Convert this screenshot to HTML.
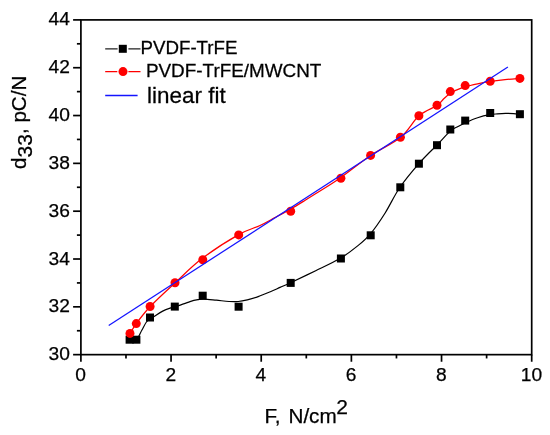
<!DOCTYPE html><html><head><meta charset="utf-8"><title>chart</title><style>html,body{margin:0;padding:0;background:#fff}svg{display:block}text{font-family:"Liberation Sans",sans-serif;fill:#000;stroke:#000;stroke-width:0.25px}</style></head><body>
<svg width="550" height="435" viewBox="0 0 550 435">
<rect width="550" height="435" fill="#fff"/>
<g stroke="#000" stroke-width="1.70" fill="none" stroke-linecap="butt">
<rect x="80.90" y="19.90" width="450.80" height="334.75"/>
<line x1="73.10" y1="354.65" x2="80.90" y2="354.65"/>
<line x1="76.90" y1="330.74" x2="80.90" y2="330.74"/>
<line x1="73.10" y1="306.83" x2="80.90" y2="306.83"/>
<line x1="76.90" y1="282.92" x2="80.90" y2="282.92"/>
<line x1="73.10" y1="259.01" x2="80.90" y2="259.01"/>
<line x1="76.90" y1="235.10" x2="80.90" y2="235.10"/>
<line x1="73.10" y1="211.19" x2="80.90" y2="211.19"/>
<line x1="76.90" y1="187.27" x2="80.90" y2="187.27"/>
<line x1="73.10" y1="163.36" x2="80.90" y2="163.36"/>
<line x1="76.90" y1="139.45" x2="80.90" y2="139.45"/>
<line x1="73.10" y1="115.54" x2="80.90" y2="115.54"/>
<line x1="76.90" y1="91.63" x2="80.90" y2="91.63"/>
<line x1="73.10" y1="67.72" x2="80.90" y2="67.72"/>
<line x1="76.90" y1="43.81" x2="80.90" y2="43.81"/>
<line x1="73.10" y1="19.90" x2="80.90" y2="19.90"/>
<line x1="80.90" y1="354.65" x2="80.90" y2="361.75"/>
<line x1="125.98" y1="354.65" x2="125.98" y2="358.45"/>
<line x1="171.06" y1="354.65" x2="171.06" y2="361.75"/>
<line x1="216.14" y1="354.65" x2="216.14" y2="358.45"/>
<line x1="261.22" y1="354.65" x2="261.22" y2="361.75"/>
<line x1="306.30" y1="354.65" x2="306.30" y2="358.45"/>
<line x1="351.38" y1="354.65" x2="351.38" y2="361.75"/>
<line x1="396.46" y1="354.65" x2="396.46" y2="358.45"/>
<line x1="441.54" y1="354.65" x2="441.54" y2="361.75"/>
<line x1="486.62" y1="354.65" x2="486.62" y2="358.45"/>
<line x1="531.70" y1="354.65" x2="531.70" y2="361.75"/>
</g>
<text transform="translate(69.80 360.15) scale(1.000 1)" font-size="19.20" text-anchor="end" >30</text>
<text transform="translate(69.80 312.33) scale(1.000 1)" font-size="19.20" text-anchor="end" >32</text>
<text transform="translate(69.80 264.51) scale(1.000 1)" font-size="19.20" text-anchor="end" >34</text>
<text transform="translate(69.80 216.69) scale(1.000 1)" font-size="19.20" text-anchor="end" >36</text>
<text transform="translate(69.80 168.86) scale(1.000 1)" font-size="19.20" text-anchor="end" >38</text>
<text transform="translate(69.80 121.04) scale(1.000 1)" font-size="19.20" text-anchor="end" >40</text>
<text transform="translate(69.80 73.22) scale(1.000 1)" font-size="19.20" text-anchor="end" >42</text>
<text transform="translate(69.80 25.40) scale(1.000 1)" font-size="19.20" text-anchor="end" >44</text>
<text transform="translate(80.60 381.00) scale(1.000 1)" font-size="19.20" text-anchor="middle" >0</text>
<text transform="translate(170.76 381.00) scale(1.000 1)" font-size="19.20" text-anchor="middle" >2</text>
<text transform="translate(260.92 381.00) scale(1.000 1)" font-size="19.20" text-anchor="middle" >4</text>
<text transform="translate(351.08 381.00) scale(1.000 1)" font-size="19.20" text-anchor="middle" >6</text>
<text transform="translate(441.24 381.00) scale(1.000 1)" font-size="19.20" text-anchor="middle" >8</text>
<text transform="translate(531.40 381.00) scale(1.000 1)" font-size="19.20" text-anchor="middle" >10</text>
<text transform="translate(25.5 122.3) rotate(-90)" font-size="20.6" text-anchor="middle">d<tspan dy="6.5" font-size="21">33</tspan><tspan dy="-6.5">, pC/N</tspan></text>
<text x="264.4" y="422.6" font-size="20.7">F<tspan dx="0">,</tspan><tspan dx="2.2"> N/cm</tspan><tspan dy="-8.2" dx="-0.4" font-size="21">2</tspan></text>
<path d="M129.6 339.7 C130.7 339.7 134.4 341.3 136.4 339.7 C138.4 338.1 140.1 333.1 141.8 330.2 C143.5 327.2 145.0 323.9 146.4 322.0 C147.8 320.1 148.8 319.9 150.0 319.0 C151.2 318.1 151.5 318.1 153.6 316.8 C155.7 315.5 159.8 312.6 162.7 311.1 C165.6 309.6 168.2 308.8 170.9 307.9 C173.6 307.0 175.4 306.6 178.6 305.6 C181.8 304.5 186.8 302.6 190.0 301.6 C193.2 300.6 195.7 300.1 198.0 299.7 C200.3 299.3 200.9 299.0 204.0 299.1 C207.1 299.2 212.2 299.8 216.4 300.2 C220.6 300.6 225.4 301.3 229.0 301.5 C232.6 301.7 235.1 301.8 238.2 301.5 C241.2 301.2 244.0 300.6 247.3 299.8 C250.6 299.0 254.3 298.0 258.2 296.6 C262.1 295.2 267.3 293.0 270.9 291.5 C274.5 290.0 276.7 288.9 280.0 287.4 C283.3 285.9 284.7 285.5 290.6 282.7 C296.6 279.9 307.3 274.8 315.7 270.7 C324.1 266.6 333.9 262.1 340.8 258.0 C347.7 253.9 352.1 250.4 357.0 246.4 C361.9 242.4 365.5 239.7 370.2 234.1 C374.9 228.5 380.4 220.5 385.3 212.7 C390.2 204.9 394.2 195.7 399.8 187.5 C405.4 179.3 412.7 170.7 418.9 163.6 C425.1 156.5 431.9 150.2 437.2 144.8 C442.5 139.3 447.0 133.9 450.5 130.9 C454.0 127.8 455.5 127.9 458.0 126.5 C460.5 125.1 462.1 124.2 465.4 122.7 C468.7 121.2 473.5 119.0 477.6 117.7 C481.7 116.4 486.6 115.3 489.9 114.7 C493.2 114.1 494.7 114.1 497.3 113.9 C499.9 113.7 502.8 113.5 505.5 113.4 C508.2 113.4 511.2 113.5 513.6 113.6 C516.1 113.7 519.1 114.1 520.2 114.2" stroke="#000" stroke-width="1.2" fill="none"/>
<path d="M130.0 333.4 C131.1 331.8 133.0 328.0 136.3 323.6 C139.6 319.1 143.6 313.5 150.0 306.7 C156.4 299.9 166.2 291.0 175.0 282.9 C183.8 274.8 192.1 266.1 202.7 258.1 C213.3 250.0 229.1 240.0 238.7 234.6 C248.2 229.2 253.9 228.4 260.0 225.5 C266.1 222.6 270.4 220.0 275.5 217.3 C280.6 214.6 285.9 211.7 290.5 209.1 C295.1 206.5 298.8 204.2 303.0 201.6 C307.2 199.0 309.2 197.8 315.5 193.8 C321.8 189.8 331.4 184.1 340.6 177.7 C349.8 171.3 360.6 162.2 370.6 155.5 C380.6 148.8 392.3 144.1 400.4 137.5 C408.5 130.9 412.9 121.1 419.0 115.8 C425.1 110.5 432.9 108.4 437.0 105.6 C441.1 102.8 441.3 101.1 443.5 99.0 C445.7 96.9 448.0 94.8 450.3 93.2 C452.6 91.6 455.0 90.7 457.5 89.6 C460.0 88.5 461.9 87.8 465.2 86.8 C468.5 85.8 473.3 84.7 477.5 83.8 C481.7 82.9 485.6 82.1 490.2 81.4 C494.8 80.7 500.1 80.1 505.0 79.6 C509.9 79.1 517.4 78.6 519.9 78.4" stroke="#f00" stroke-width="1.25" fill="none"/>
<rect x="125.6" y="335.7" width="8" height="8" fill="#000"/>
<rect x="132.4" y="335.7" width="8" height="8" fill="#000"/>
<rect x="146.0" y="313.5" width="8" height="8" fill="#000"/>
<rect x="170.8" y="302.6" width="8" height="8" fill="#000"/>
<rect x="198.7" y="291.7" width="8" height="8" fill="#000"/>
<rect x="234.6" y="302.7" width="8" height="8" fill="#000"/>
<rect x="286.7" y="278.9" width="8" height="8" fill="#000"/>
<rect x="336.9" y="254.5" width="8" height="8" fill="#000"/>
<rect x="366.7" y="231.3" width="8" height="8" fill="#000"/>
<rect x="396.3" y="183.3" width="8" height="8" fill="#000"/>
<rect x="414.9" y="159.7" width="8" height="8" fill="#000"/>
<rect x="433.0" y="141.2" width="8" height="8" fill="#000"/>
<rect x="446.3" y="125.5" width="8" height="8" fill="#000"/>
<rect x="461.2" y="116.6" width="8" height="8" fill="#000"/>
<rect x="486.2" y="109.0" width="8" height="8" fill="#000"/>
<rect x="515.9" y="110.2" width="8" height="8" fill="#000"/>
<circle cx="130.0" cy="333.4" r="4.5" fill="#f00"/>
<circle cx="136.3" cy="323.6" r="4.5" fill="#f00"/>
<circle cx="150.1" cy="306.5" r="4.5" fill="#f00"/>
<circle cx="175.0" cy="282.7" r="4.5" fill="#f00"/>
<circle cx="202.8" cy="259.7" r="4.5" fill="#f00"/>
<circle cx="238.7" cy="234.9" r="4.5" fill="#f00"/>
<circle cx="290.7" cy="211.3" r="4.5" fill="#f00"/>
<circle cx="340.9" cy="178.2" r="4.5" fill="#f00"/>
<circle cx="370.6" cy="155.4" r="4.5" fill="#f00"/>
<circle cx="400.4" cy="137.3" r="4.5" fill="#f00"/>
<circle cx="418.9" cy="115.8" r="4.5" fill="#f00"/>
<circle cx="437.0" cy="105.3" r="4.5" fill="#f00"/>
<circle cx="450.3" cy="91.6" r="4.5" fill="#f00"/>
<circle cx="465.2" cy="85.6" r="4.5" fill="#f00"/>
<circle cx="490.2" cy="81.2" r="4.5" fill="#f00"/>
<circle cx="519.9" cy="78.4" r="4.5" fill="#f00"/>
<line x1="108.7" y1="325.6" x2="507.9" y2="66.9" stroke="#1414ff" stroke-width="1.25"/>
<path d="M105.2 48.8H117.6M128.4 48.8H140.5" stroke="#222" stroke-width="1.25"/>
<rect x="118.8" y="44.8" width="8" height="8" fill="#000"/>
<text transform="translate(140.50 53.90) scale(1.046 1)" font-size="17.90" text-anchor="start" >PVDF-TrFE</text>
<path d="M105.2 71.6H117.3M128.4 71.6H140.5" stroke="#f00" stroke-width="1.2"/>
<circle cx="123" cy="71.6" r="4.5" fill="#f00"/>
<text transform="translate(145.90 77.35) scale(1.050 1)" font-size="18.00" text-anchor="start" >PVDF-TrFE/MWCNT</text>
<line x1="105.2" y1="95.5" x2="137.6" y2="95.5" stroke="#1414ff" stroke-width="1.3"/>
<text transform="translate(147.10 102.90) scale(1.050 1)" font-size="21.40" text-anchor="start" >linear fit</text>
</svg></body></html>
